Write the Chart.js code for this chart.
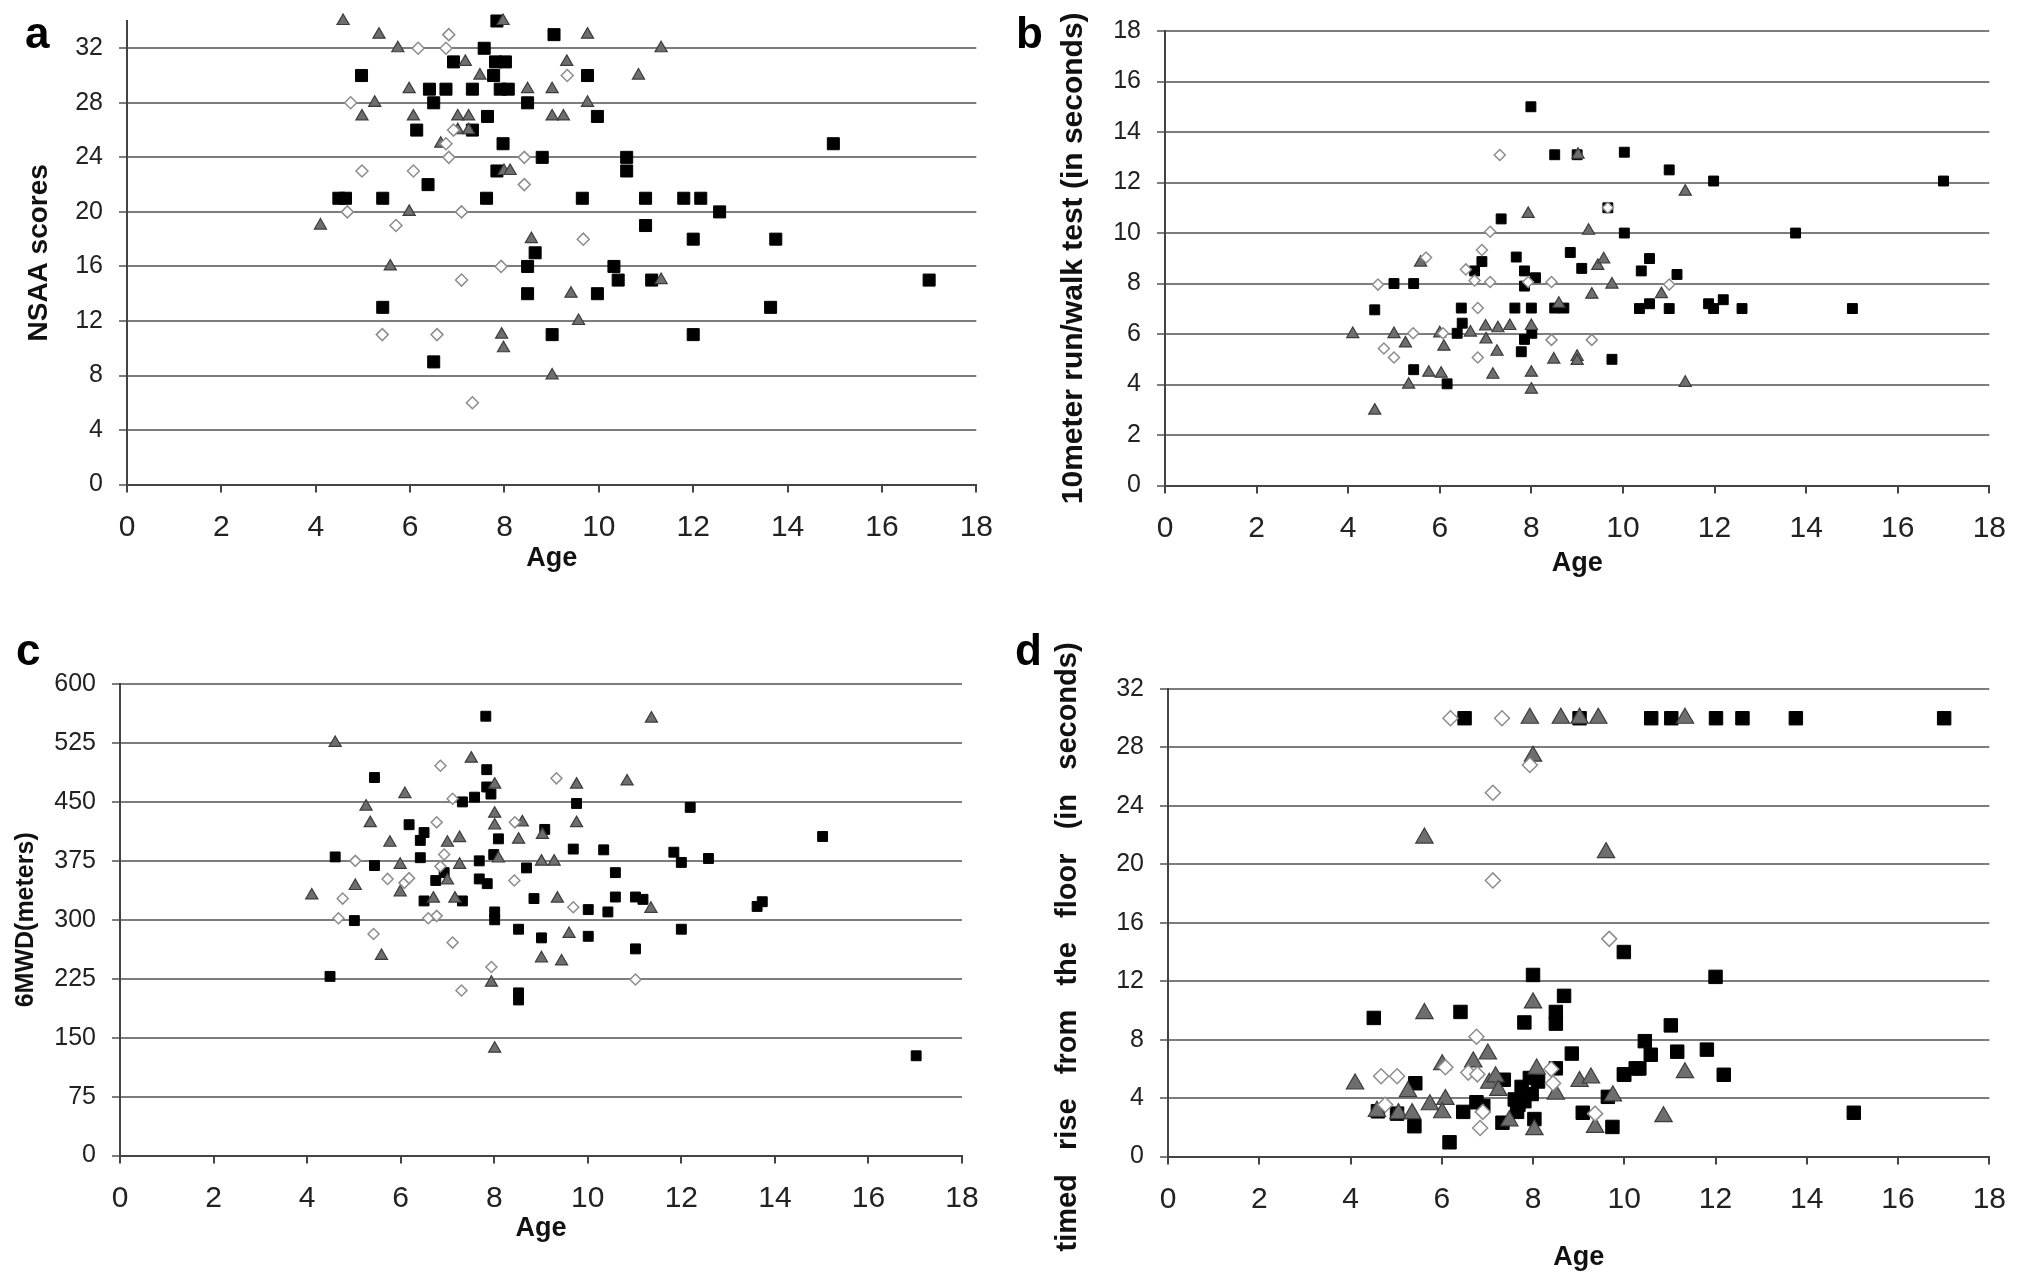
<!DOCTYPE html>
<html>
<head>
<meta charset="utf-8">
<title>Motor tests by age</title>
<script src="https://cdn.jsdelivr.net/npm/chart.js@4.4.1/dist/chart.umd.min.js"></script>
<style>
    body { margin: 0; background: #fff; }
    #page { position: relative; width: 2026px; height: 1277px; overflow: hidden; background: #fff; }
    .panel { position: absolute; }
    .tag { position: absolute; font: bold 44px "Liberation Sans", Arial, sans-serif; color: #000; line-height: 1; }
</style>
</head>
<body>
<div id="page">
    <canvas id="chartA" class="panel" width="1013" height="585" style="left:0px;top:-10px"></canvas>
    <canvas id="chartB" class="panel" width="996" height="580" style="left:1030px;top:0px"></canvas>
    <canvas id="chartC" class="panel" width="1000" height="615" style="left:0px;top:630px"></canvas>
    <canvas id="chartD" class="panel" width="996" height="644" style="left:1030px;top:630px"></canvas>
    <div class="tag" style="left:25px;top:11px">a</div>
    <div class="tag" style="left:1016px;top:11px">b</div>
    <div class="tag" style="left:16px;top:628px">c</div>
    <div class="tag" style="left:1015px;top:628px">d</div>
</div>

<script>
// tick labels
var ageTicks = [0, 2, 4, 6, 8, 10, 12, 14, 16, 18];
var nsaaTicks = [0, 4, 8, 12, 16, 20, 24, 28, 32];
var runTicks = [0, 2, 4, 6, 8, 10, 12, 14, 16, 18];
var walkTicks = [0, 75, 150, 225, 300, 375, 450, 525, 600];
var riseTicks = [0, 4, 8, 12, 16, 20, 24, 28, 32];

// a: NSAA scores  [age, score]
var nsaaSquares = [[7.84,34],[9.05,33],[7.57,32],[6.92,31],[7.81,31],[8.02,31],[4.97,30],[7.77,30],[9.76,30],
    [6.41,29],[6.76,29],[7.32,29],[7.91,29],[8.08,29],[6.50,28],[8.49,28],[7.64,27],[9.97,27],[6.14,26],[7.32,26],
    [7.97,25],[14.97,25],[8.80,24],[10.59,24],[7.84,23],[10.59,23],[6.38,22],[4.49,21],[4.63,21],[5.42,21],[7.62,21],
    [9.65,21],[10.99,21],[11.80,21],[12.16,21],[12.56,20],[10.99,19],[12.0,18],[13.75,18],[8.65,17],[8.49,16],
    [10.32,16],[10.41,15],[11.12,15],[17.0,15],[8.49,14],[9.97,14],[5.42,13],[13.64,13],[9.01,11],[12.0,11],[6.50,9]];
var nsaaTriangles = [[4.58,34],[5.34,33],[5.74,32],[9.76,33],[7.97,34],[11.32,32],[7.17,31],[9.32,31],[7.48,30],
    [10.84,30],[5.98,29],[8.49,29],[9.01,29],[5.25,28],[9.76,28],[4.98,27],[6.07,27],[7.01,27],[7.24,27],[9.01,27],
    [9.25,27],[7.01,26],[7.24,26],[6.65,25],[7.99,23],[8.12,23],[5.98,20],[4.10,19],[8.57,18],[5.58,16],[11.32,15],
    [9.41,14],[9.57,12],[7.94,11],[7.98,10],[9.01,8]];
var nsaaDiamonds = [[6.82,33],[6.17,32],[6.76,32],[9.33,30],[4.74,28],[6.92,26],[6.76,25],[6.82,24],[8.42,24],
    [4.98,23],[6.07,23],[8.42,22],[4.67,20],[7.09,20],[5.70,19],[9.67,18],[7.93,16],[7.09,15],[5.41,11],[6.57,11],[7.32,6]];

// b: 10 meter run/walk test (s)
var runSquares = [[7.99,15],[8.51,13.1],[9.0,13.1],[10.03,13.2],[11.01,12.5],[11.98,12.06],[17.0,12.06],[9.67,11],
    [7.34,10.56],[10.03,10],[13.77,10],[8.85,9.23],[7.67,9.05],[6.92,8.87],[10.58,8.99],[9.1,8.6],[10.4,8.5],
    [11.18,8.36],[6.76,8.5],[7.85,8.5],[8.09,8.23],[5.0,8.0],[5.43,8.0],[7.85,7.9],[4.58,6.96],[6.47,7.03],[7.64,7.03],
    [8.0,7.03],[8.51,7.03],[8.71,7.03],[10.36,7.01],[10.58,7.2],[11.01,7.01],[11.87,7.2],[11.98,7.01],[12.19,7.36],
    [12.6,7.01],[15.01,7.01],[6.49,6.43],[6.38,6.03],[8.01,6.03],[7.85,5.79],[7.78,5.3],[9.76,5.0],[5.43,4.59],[6.16,4.03]];
var runTriangles = [[9.02,13.1],[7.93,10.76],[9.25,10.09],[11.36,11.64],[5.58,8.83],[9.45,8.7],[9.58,8.96],[9.76,7.96],
    [9.32,7.56],[10.84,7.58],[8.6,7.2],[4.1,6.0],[5.0,6.0],[5.25,5.63],[6.0,6.03],[6.09,5.5],[6.67,6.06],[7.0,6.3],
    [7.01,5.79],[7.27,6.23],[7.53,6.32],[8.0,6.32],[7.25,5.3],[5.76,4.47],[6.03,4.43],[5.32,4.0],[7.16,4.39],[8.0,4.47],
    [8.0,3.8],[4.58,2.97],[8.49,4.99],[9.0,5.1],[9.0,4.94],[11.36,4.07]];
var runDiamonds = [[7.31,13.09],[9.67,11],[7.1,10.05],[6.92,9.33],[5.7,9.03],[6.57,8.56],[6.76,8.12],[7.1,8.06],
    [4.65,7.96],[7.93,8.06],[8.44,8.06],[11.01,7.96],[6.83,7.03],[5.42,6.03],[6.07,6.03],[4.78,5.43],[5.0,5.07],
    [6.83,5.07],[8.44,5.77],[9.32,5.77]];

// c: 6 minute walk distance (m)
var walkSquares = [[7.82,559],[5.44,481],[7.84,491],[7.84,469],[7.93,460],[7.58,456],[7.32,450],[9.76,448],[12.19,443],
    [6.18,421],[6.5,411],[6.42,401],[9.08,415],[8.09,403],[9.69,390],[10.34,389],[11.84,386],[12.0,373],[12.58,378],
    [4.6,380],[5.44,369],[6.42,379],[7.68,375],[7.99,383],[8.69,366],[10.59,360],[6.93,360],[6.75,350],[7.68,352],
    [7.85,346],[6.5,324],[7.32,324],[8.85,327],[10.59,329],[11.02,329],[11.18,326],[10.01,313],[10.43,310],[8.01,310],
    [8.01,300],[5.01,299],[8.52,288],[9.01,277],[10.01,279],[12.0,288],[11.02,263],[4.49,228],[8.52,207],[8.52,198],
    [15.02,406],[13.62,317],[13.73,323],[17.02,127]];
var walkTriangles = [[11.36,556],[4.6,525],[7.51,505],[8.01,472],[9.76,472],[10.84,476],[6.09,460],[5.26,444],[5.35,423],
    [8.01,435],[8.01,420],[8.6,424],[9.76,423],[5.77,398],[7.0,398],[7.26,404],[8.52,402],[9.03,408],[5.99,370],
    [7.26,370],[8.09,378],[9.01,374],[9.28,374],[5.03,343],[5.99,335],[7.0,350],[4.1,331],[6.7,327],[7.16,327],
    [9.35,327],[11.35,314],[9.6,282],[5.59,254],[9.01,251],[9.44,247],[7.94,220],[8.01,136]];
var walkDiamonds = [[6.85,496],[9.33,480],[7.11,454],[6.77,424],[8.44,424],[6.93,383],[5.03,375],[6.85,368],[5.72,352],
    [6.08,347],[6.18,353],[8.43,350],[4.76,327],[9.69,316],[4.67,302],[6.59,302],[6.77,305],[5.42,282],[7.11,271],
    [7.94,240],[11.02,224],[7.3,210]];

// d: timed rise from the floor (s)
var riseSquares = [[6.5,30],[9.02,30],[10.59,30],[11.03,30],[12.01,30],[12.59,30],[13.76,30],[17.01,30],[9.99,14],
    [8.0,12.43],[12.0,12.3],[8.68,11],[8.5,9.9],[8.5,9.1],[7.81,9.18],[4.51,9.49],[6.41,9.9],[8.85,7.05],[8.5,6.04],
    [9.99,5.63],[10.25,6.04],[5.42,5.02],[5.4,2.08],[4.6,3.1],[5.02,2.94],[6.47,3.06],[6.76,3.72],[6.91,3.47],
    [7.36,5.26],[7.33,2.32],[7.6,3.91],[7.75,4.77],[7.81,3.79],[7.97,4.28],[7.93,5.38],[8.11,5.14],[7.65,3.06],
    [8.03,2.57],[7.68,3.55],[9.09,3.0],[9.74,2.03],[9.64,4.09],[6.17,0.98],[15.03,3.0],[10.0,5.6],[10.33,6.03],
    [10.45,7.9],[10.58,6.97],[11.02,8.98],[11.16,7.18],[11.81,7.32],[12.18,5.6]];
var riseTriangles = [[7.93,30],[8.61,30],[9.02,30],[9.43,30],[11.33,30],[8.0,27.4],[5.62,21.8],[9.6,20.8],[5.62,9.79],
    [8.0,10.52],[4.1,4.97],[4.58,3.1],[5.05,2.94],[5.26,4.45],[5.35,2.94],[5.74,3.55],[6.01,6.29],[6.08,3.91],[6.01,3.0],
    [6.69,6.48],[7.01,7.02],[7.04,5.02],[7.18,5.46],[7.24,4.53],[7.48,2.45],[8.08,5.99],[8.03,1.84],[8.5,4.28],
    [9.02,5.14],[9.27,5.38],[9.36,2.0],[9.75,4.16],[10.86,2.73],[11.33,5.74]];
var riseDiamonds = [[6.19,30],[7.32,30],[7.93,26.8],[7.12,24.9],[7.12,18.9],[9.67,14.9],[4.67,5.5],[5.02,5.5],[4.76,3.55],
    [6.08,6.12],[6.76,8.2],[6.58,5.75],[6.78,5.63],[6.84,1.96],[6.9,3.06],[8.4,5.99],[8.44,5.02],[9.36,2.94]];


var SANS = '"Liberation Sans", Arial, sans-serif';
var NARROW = '"Liberation Sans Narrow", "Liberation Sans", Arial, sans-serif';

function scatterSet(points, style, r, fill, border, bw) {
    return {
        data: points.map(function (p) { return {x: p[0], y: p[1]}; }),
        pointStyle: style,
        pointRadius: r,
        pointHoverRadius: r,
        backgroundColor: fill,
        borderColor: border,
        borderWidth: bw,
        clip: false
    };
}

function fixedTicks(values) {
    return function (axis) {
        axis.ticks = values.map(function (v) { return {value: v}; });
    };
}

// x axis height comes out as tickLength + 2 * tick padding + label line + title line + title padding
function drawPanel(id, p) {
    new Chart(document.getElementById(id), {
        type: 'scatter',
        data: {
            datasets: [
                scatterSet(p.diamonds, 'rectRot', p.dSize, '#ffffff', '#8c8c8c', 1.5),
                scatterSet(p.triangles, 'triangle', p.tSize, '#6e6e6e', '#3c3c3c', 1.2),
                scatterSet(p.squares, 'rect', p.sSize, '#000000', '#000000', 1)
            ]
        },
        options: {
            responsive: false,
            animation: false,
            events: [],
            layout: {padding: {top: p.padTop, right: p.padRight, left: 0, bottom: 0}},
            plugins: {legend: {display: false}, tooltip: {enabled: false}},
            scales: {
                x: {
                    type: 'linear',
                    min: 0,
                    max: 18,
                    afterBuildTicks: fixedTicks(ageTicks),
                    border: {display: true, color: '#444', width: 2},
                    grid: {drawOnChartArea: false, drawTicks: true, tickLength: 8, color: '#444', lineWidth: 2},
                    ticks: {padding: 20, color: '#222', maxRotation: 0, autoSkip: false,
                        font: {family: NARROW, size: 30, lineHeight: 1}},
                    title: {display: true, text: 'Age', color: '#111', padding: {top: p.ageGap, bottom: 0},
                        font: {family: SANS, size: 27, weight: 'bold'}}
                },
                y: {
                    type: 'linear',
                    min: 0,
                    max: p.yMax,
                    afterBuildTicks: fixedTicks(p.yTicks),
                    afterFit: function (axis) { axis.width = p.yWidth; },
                    border: {display: true, color: '#444', width: 2},
                    grid: {drawTicks: true, tickLength: 8, color: '#7d7d7d', lineWidth: 2},
                    ticks: {padding: 16, color: '#222', font: {family: SANS, size: 25}},
                    title: {display: true, text: p.yTitle, color: '#111', padding: {top: p.yTitlePad, bottom: 0},
                        font: {family: SANS, size: p.yTitleSize, weight: 'bold'}}
                }
            }
        }
    });
}

drawPanel('chartA', {
    squares: nsaaSquares, triangles: nsaaTriangles, diamonds: nsaaDiamonds,
    sSize: 8.5, tSize: 7, dSize: 6,
    yMax: 34, yTicks: nsaaTicks, yTitle: 'NSAA scores', yTitleSize: 28, yTitlePad: 22,
    padTop: 22, padRight: 26, yWidth: 127, ageGap: -20
});

drawPanel('chartB', {
    squares: runSquares, triangles: runTriangles, diamonds: runDiamonds,
    sSize: 7, tSize: 7, dSize: 5.5,
    yMax: 18, yTicks: runTicks, yTitle: '10meter run/walk test (in seconds)', yTitleSize: 30, yTitlePad: 26,
    padTop: 31, padRight: 35, yWidth: 135, ageGap: -16
});

drawPanel('chartC', {
    squares: walkSquares, triangles: walkTriangles, diamonds: walkDiamonds,
    sSize: 7, tSize: 7, dSize: 5.5,
    yMax: 600, yTicks: walkTicks, yTitle: '6MWD(meters)', yTitleSize: 25, yTitlePad: 11,
    padTop: 54, padRight: 38, yWidth: 120, ageGap: -21
});

drawPanel('chartD', {
    squares: riseSquares, triangles: riseTriangles, diamonds: riseDiamonds,
    sSize: 9.5, tSize: 10, dSize: 7.5,
    yMax: 32, yTicks: riseTicks,
    yTitle: 'timed   rise   from   the   floor   (in   seconds)      ', yTitleSize: 29, yTitlePad: 21,
    padTop: 59, padRight: 18, yWidth: 138, ageGap: 7
});
</script>
</body>
</html>
